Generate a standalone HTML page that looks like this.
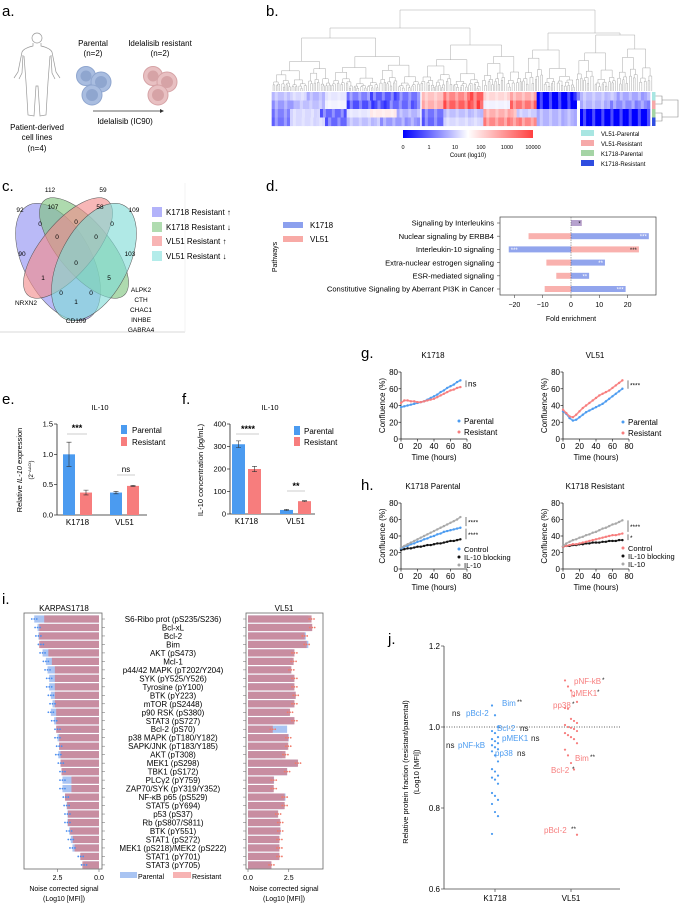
<!DOCTYPE html>
<html><head><meta charset="utf-8">
<style>
html,body{margin:0;padding:0;background:#fff;}
svg{display:block;font-family:"Liberation Sans",Arial,sans-serif;}
</style></head>
<body>
<svg id="fig" width="685" height="903" viewBox="0 0 685 903" xmlns="http://www.w3.org/2000/svg">
<!-- Panel a -->
<g>
<text x="2" y="16" font-size="15">a.</text>
<g fill="none" stroke="#999" stroke-width="0.7">
<circle cx="37" cy="38" r="5"/>
<path d="M33,43 L33,46 Q24,48 22,52 L18,72 L14,78 M41,43 L41,46 Q50,48 52,52 L56,72 L60,78 M23,55 L22,73 L19,79 M51,55 L52,73 L55,79 M24,56 L26,82 L28,115 L34,116 L36,86 L38,86 L40,116 L46,115 L48,82 L50,56"/>
</g>
<text x="93" y="46" font-size="8" text-anchor="middle">Parental</text>
<text x="93" y="56" font-size="8" text-anchor="middle">(n=2)</text>
<text x="160" y="46" font-size="8" text-anchor="middle">Idelalisib resistant</text>
<text x="160" y="56" font-size="8" text-anchor="middle">(n=2)</text>
<g>
<circle cx="86" cy="76" r="9.5" fill="#a9bde0" stroke="#8fa6cf"/><circle cx="86" cy="76" r="5.5" fill="#8fa6cf"/>
<circle cx="101" cy="82" r="10" fill="#a9bde0" stroke="#8fa6cf"/><circle cx="101" cy="82" r="6" fill="#8fa6cf"/>
<circle cx="92" cy="95" r="10" fill="#a9bde0" stroke="#8fa6cf"/><circle cx="92" cy="95" r="6" fill="#8fa6cf"/>
</g>
<g>
<circle cx="153" cy="76" r="9.5" fill="#e8c0c2" stroke="#d6a3a6"/><circle cx="153" cy="76" r="5.5" fill="#d6a3a6"/>
<circle cx="167" cy="82" r="10" fill="#e8c0c2" stroke="#d6a3a6"/><circle cx="167" cy="82" r="6" fill="#d6a3a6"/>
<circle cx="158" cy="95" r="10" fill="#e8c0c2" stroke="#d6a3a6"/><circle cx="158" cy="95" r="6" fill="#d6a3a6"/>
</g>
<line x1="93" y1="111" x2="161" y2="111" stroke="#333" stroke-width="0.8"/>
<path d="M160,109 L164,111 L160,113 Z" fill="#333"/>
<text x="125" y="124" font-size="8" text-anchor="middle">Idelalisib (IC90)</text>
<text x="37" y="130" font-size="8" text-anchor="middle">Patient-derived</text>
<text x="37" y="140" font-size="8" text-anchor="middle">cell lines</text>
<text x="37" y="151" font-size="8" text-anchor="middle">(n=4)</text>
</g>

<!-- Panel b -->
<g>
<text x="266" y="16" font-size="15">b.</text>
<g id="dendro" stroke="#aaa" stroke-width="0.5" fill="none"></g>
<g id="heat"></g>
<g stroke="#888" stroke-width="0.6" fill="none">
<path d="M655,96 L662,96 L662,104 L655,104 M655,113 L662,113 L662,121 L655,121 M662,100 L678,100 L678,117 L662,117"/>
</g>
<rect x="652" y="92" width="3.5" height="8.5" fill="#a8e6e2"/>
<rect x="652" y="100.5" width="3.5" height="8.5" fill="#f6a9a9"/>
<rect x="652" y="109" width="3.5" height="8.5" fill="#a5d4a5"/>
<rect x="652" y="117.5" width="3.5" height="8.5" fill="#2f4de0"/>
<defs><linearGradient id="cb" x1="0" x2="1"><stop offset="0" stop-color="#0000ff"/><stop offset="0.5" stop-color="#ffffff"/><stop offset="1" stop-color="#ff4040"/></linearGradient></defs>
<rect x="403" y="130" width="130" height="8" fill="url(#cb)"/>
<g font-size="5.5" text-anchor="middle">
<text x="403" y="149">0</text><text x="429" y="149">1</text><text x="455" y="149">10</text><text x="481" y="149">100</text><text x="507" y="149">1000</text><text x="533" y="149">10000</text>
</g>
<text x="468" y="157" font-size="6" text-anchor="middle">Count (log10)</text>
<g font-size="6">
<rect x="581" y="130" width="13" height="6" fill="#a8e6e2"/><text x="601" y="136">VL51-Parental</text>
<rect x="581" y="140" width="13" height="6" fill="#f6a9a9"/><text x="601" y="146">VL51-Resistant</text>
<rect x="581" y="150" width="13" height="6" fill="#a5d4a5"/><text x="601" y="156">K1718-Parental</text>
<rect x="581" y="160" width="13" height="6" fill="#2f4de0"/><text x="601" y="166">K1718-Resistant</text>
</g>
</g>

<!-- Panel c -->
<g>
<text x="2" y="191" font-size="15">c.</text>
<line x1="0" y1="332" x2="185" y2="332" stroke="#ccc" stroke-width="0.7"/>
<line x1="185" y1="183" x2="185" y2="332" stroke="#eee" stroke-width="0.7"/>
<g stroke="#555" stroke-width="0.5" fill-opacity="0.62">
<ellipse cx="58" cy="262" rx="34" ry="64" transform="rotate(-28 58 262)" fill="#8f8ff2"/>
<ellipse cx="84" cy="248" rx="26" ry="62" transform="rotate(-40 84 248)" fill="#7cc47c"/>
<ellipse cx="68" cy="248" rx="26" ry="62" transform="rotate(40 68 248)" fill="#f28a8a"/>
<ellipse cx="94" cy="262" rx="34" ry="64" transform="rotate(28 94 262)" fill="#7fdcd6"/>
</g>
<g font-size="6.5" text-anchor="middle">
<text x="50" y="192">112</text><text x="103" y="192">59</text><text x="20" y="212">92</text><text x="134" y="212">109</text>
<text x="53" y="209">107</text><text x="100" y="209">58</text><text x="40" y="226">0</text><text x="76" y="224">0</text><text x="112" y="226">0</text>
<text x="57" y="239">0</text><text x="96" y="239">0</text><text x="22" y="256">90</text><text x="130" y="256">103</text><text x="76" y="265">0</text>
<text x="43" y="280">1</text><text x="109" y="280">5</text><text x="61" y="295">0</text><text x="91" y="295">0</text><text x="76" y="304">1</text>
</g>
<g font-size="6.5" text-anchor="middle">
<text x="26" y="305">NRXN2</text><text x="76" y="323">CD109</text>
<text x="141" y="292">ALPK2</text><text x="141" y="302">CTH</text><text x="141" y="312">CHAC1</text><text x="141" y="322">INHBE</text><text x="141" y="332">GABRA4</text>
</g>
<g font-size="8">
<rect x="152" y="207" width="10" height="10" fill="#b3b3fa"/><text x="166" y="215">K1718 Resistant ↑</text>
<rect x="152" y="222" width="10" height="10" fill="#b0dcb0"/><text x="166" y="230">K1718 Resistant ↓</text>
<rect x="152" y="236" width="10" height="10" fill="#f8b4b4"/><text x="166" y="244">VL51 Resistant ↑</text>
<rect x="152" y="251" width="10" height="10" fill="#b3ecea"/><text x="166" y="259">VL51 Resistant ↓</text>
</g>
</g>

<!-- Panel d -->
<g>
<text x="266" y="191" font-size="15">d.</text>
<rect x="283" y="222" width="20" height="6" fill="#8ca0ee"/><text x="310" y="228" font-size="8">K1718</text>
<rect x="283" y="236" width="20" height="6" fill="#f8aaa6"/><text x="310" y="242" font-size="8">VL51</text>
<text transform="translate(277,257) rotate(-90)" font-size="7" text-anchor="middle">Pathways</text>
<rect x="500" y="217" width="156" height="78" fill="none" stroke="#444" stroke-width="0.7"/>
<g id="dplot"></g>
<text x="571" y="321" font-size="7" text-anchor="middle">Fold enrichment</text>
</g>

<!-- Panel e -->
<g>
<text x="2" y="404" font-size="15">e.</text>
<text x="100" y="410" font-size="7.5" text-anchor="middle">IL-10</text>
<text transform="translate(22,470) rotate(-90)" font-size="7.5" text-anchor="middle">Relative <tspan font-style="italic">IL-10</tspan> expression</text>
<text transform="translate(33,470) rotate(-90)" font-size="6" text-anchor="middle">(2<tspan baseline-shift="super" font-size="4">−ΔΔCt</tspan>)</text>
<g id="eplot"></g>
<g font-size="8">
<rect x="121" y="425" width="6" height="9" fill="#4b9bf0"/><text x="132" y="433">Parental</text>
<rect x="121" y="437" width="6" height="9" fill="#f77d7d"/><text x="132" y="445">Resistant</text>
</g>
</g>

<!-- Panel f -->
<g>
<text x="182" y="404" font-size="15">f.</text>
<text x="270" y="410" font-size="7.5" text-anchor="middle">IL-10</text>
<text transform="translate(203,470) rotate(-90)" font-size="7.5" text-anchor="middle">IL-10 concentration (pg/mL)</text>
<g id="fplot"></g>
<g font-size="8">
<rect x="294" y="426" width="6" height="9" fill="#4b9bf0"/><text x="304" y="434">Parental</text>
<rect x="294" y="437" width="6" height="9" fill="#f77d7d"/><text x="304" y="445">Resistant</text>
</g>
</g>

<!-- Panels g,h -->
<g>
<text x="361" y="358" font-size="15">g.</text>
</g>
<g>
<text x="361" y="490" font-size="15">h.</text>
</g>
<g id="ghplots"></g>

<!-- Panel i -->
<g>
<text x="2" y="604" font-size="15">i.</text>
<text x="64" y="611" font-size="8" text-anchor="middle">KARPAS1718</text>
<text x="284" y="611" font-size="8" text-anchor="middle">VL51</text>
<g id="iplot"></g>
<g font-size="7" text-anchor="middle">
<text x="64" y="891">Noise corrected signal</text><text x="64" y="901">(Log10 [MFI])</text>
<text x="284" y="891">Noise corrected signal</text><text x="284" y="901">(Log10 [MFI])</text>
</g>
<g font-size="7">
<rect x="120" y="872" width="17" height="6" fill="#a9c4f2"/><text x="138" y="879">Parental</text>
<rect x="173" y="872" width="18" height="6" fill="#f7b3b3"/><text x="192" y="879">Resistant</text>
</g>
</g>

<!-- Panel j -->
<g>
<text x="388" y="644" font-size="15">j.</text>
<text transform="translate(408,772) rotate(-90)" font-size="7.5" text-anchor="middle">Relative protein fraction (resistant/parental)</text>
<text transform="translate(419,772) rotate(-90)" font-size="7.5" text-anchor="middle">(Log10 [MFI])</text>
<g id="jplot"></g>
</g>
</svg>
<script>
const NS='http://www.w3.org/2000/svg';
function mk(tag,attrs,parent){const e=document.createElementNS(NS,tag);for(const k in attrs)e.setAttribute(k,attrs[k]);if(parent)parent.appendChild(e);return e;}
function txt(s,attrs,parent){const e=mk('text',attrs,parent);e.textContent=s;return e;}

/* ---------- b: heatmap blocks (zoom-x start, end, log-scaled value -2..1) ---------- */
const heatRow1=[[5,60,-0.5],[60,110,-0.3],[110,165,-0.6],[165,230,-0.2],[230,300,-1.0],[300,380,-1.3],[380,450,-1.1],[455,520,0.3],[520,600,0.6],[600,640,0.8],[640,720,0.2],[720,800,0.4],[800,910,-2],[910,930,-1.4],[930,1040,-0.5],[1040,1140,-0.7]];
const heatRow2=[[5,80,-0.8],[80,165,-0.5],[165,230,-0.1],[230,350,-1.4],[350,450,-1.2],[455,520,0.4],[520,620,0.8],[620,640,1.0],[640,720,-0.1],[720,800,0.7],[800,920,-2],[930,1020,-0.6],[1020,1140,-0.9]];
const heatRow3=[[5,60,-1.0],[60,150,-0.3],[150,230,-1.2],[230,300,-0.2],[300,380,0.1],[380,450,-0.6],[455,520,-1.1],[520,640,-0.5],[640,740,0.4],[740,800,-0.4],[800,920,-0.6],[930,1140,-2]];
const heatRow4=[[5,60,-1.1],[60,165,-0.3],[165,230,-1.2],[230,330,-0.5],[330,450,-0.8],[455,520,-1.2],[520,640,-0.3],[640,800,0.6],[800,920,-0.6],[930,1140,-2]];
const heatRows=[heatRow1,heatRow2,heatRow3,heatRow4];
function heatColor(v){if(v<0){const t=Math.min(1,-v/2);const c=Math.round(255*(1-t*1.0));return `rgb(${Math.max(0,c)},${Math.max(0,c)},255)`;}const t=Math.min(1,v);return `rgb(255,${Math.round(255-t*200)},${Math.round(255-t*200)})`;}
const heat=document.getElementById('heat');
heatRows.forEach((row,ri)=>{row.forEach(b=>{const x0=270+b[0]/3,x1=270+b[1]/3;
 const steps=Math.max(1,Math.round((x1-x0)/3));
 for(let s=0;s<steps;s++){const vv=b[2]*(s%3===1?0.7:(s%4===0?1.15:1));
  const r=mk('rect',{x:x0+(x1-x0)*s/steps,y:92+ri*8.5,width:(x1-x0)/steps+0.3,height:8.6,fill:heatColor(vv)},heat);
  
  }
});});
/* dendrogram (decorative tree structure) */
const dendro=document.getElementById('dendro');
function subtree(x0,x1,top,depth,cx){if(depth===0||x1-x0<2.5){mk('line',{x1:cx,y1:top,x2:cx,y2:91},dendro);return;}
 const split=x0+(x1-x0)*(0.4+0.2*((depth*5+Math.round(x0))%4)/3);const lh=top+(91-top)*(0.2+0.12*(depth%3));const rh=top+(91-top)*(0.25+0.1*((depth+2)%3));
 const lc=(x0+split)/2,rc=(split+x1)/2;mk('path',{d:`M${lc},${lh} L${lc},${top} L${rc},${top} L${rc},${rh}`},dendro);
 subtree(x0,split,lh,depth-1,lc);subtree(split,x1,rh,depth-1,rc);}
(function(){const top=10;const lc=400,rc=595;
 mk('path',{d:`M${lc},28 L${lc},${top} L${rc},${top} L${rc},33`},dendro);
 subtree(272,420,38,8,330);subtree(420,522,45,7,470);mk('path',{d:'M330,38 L330,28 L470,28 L470,45'},dendro);
 subtree(522,575,50,6,548);subtree(575,653,35,7,620);mk('path',{d:'M548,50 L548,33 L620,33 L620,35'},dendro);})();

/* ---------- d: pathway fold enrichment ---------- */
const dPathways=['Signaling by Interleukins','Nuclear signaling by ERBB4','Interleukin-10 signaling','Extra-nuclear estrogen signaling','ESR-mediated signaling','Constitutive Signaling by Aberrant PI3K in Cancer'];
const dK1718=[3.8,27.5,-22,12,6.4,19.3];
const dVL51=[3.8,-15,24,-8.7,-5.2,-9.3];
const dStarsK=['*','***','***','**','**','***'];
const dStarsV=['*','','***','','',''];
const dTicks=[-20,-10,0,10,20];
(function(){const g=document.getElementById('dplot');const x=v=>571+v*2.83;const y=i=>223+i*13.2;
 dPathways.forEach((p,i)=>{const t=txt(p,{x:494,y:y(i)+2.7,'font-size':7.6,'text-anchor':'end'},g);
  
  
  mk('line',{x1:497,x2:500,y1:y(i),y2:y(i),stroke:'#444','stroke-width':0.6},g);
  const v=dVL51[i];const r1=mk('rect',{x:Math.min(x(0),x(v)),y:y(i)-3,width:Math.abs(x(v)-x(0)),height:6,fill:'#f8a9a5','fill-opacity':0.9},g);
  
  
  const k=dK1718[i];const r2=mk('rect',{x:Math.min(x(0),x(k)),y:y(i)-3,width:Math.abs(x(k)-x(0)),height:6,fill:'#7f95ea','fill-opacity':i===0?0.55:0.85},g);
  
  
  if(dStarsK[i]&&i>0)txt(dStarsK[i],{x:k>0?x(k)-2:x(k)+2,y:y(i)+2.5,'font-size':6,fill:'#fff','text-anchor':k>0?'end':'start'},g);
  if(dStarsV[i]&&i>0)txt(dStarsV[i],{x:x(v)-2,y:y(i)+2.5,'font-size':6,fill:'#222','text-anchor':'end'},g);
  if(i===0)txt('*',{x:x(k)-1,y:y(i)+2.5,'font-size':6,fill:'#222','text-anchor':'end'},g);
 });
 mk('line',{x1:x(0),x2:x(0),y1:217,y2:295,stroke:'#555','stroke-width':0.5,'stroke-dasharray':'1.5,1'},g);
 dTicks.forEach(t=>{mk('line',{x1:x(t),x2:x(t),y1:295,y2:298,stroke:'#444','stroke-width':0.6},g);const tt=txt(t<0?'−'+(-t):String(t),{x:x(t),y:307,'font-size':7,'text-anchor':'middle'},g);
  
  });
})();

/* ---------- e & f bar charts ---------- */
const eCats=['K1718','VL51'];
const eParental=[1.0,0.37];
const eResistant=[0.37,0.48];
const eParErr=[0.2,0.02];
const eResErr=[0.04,0.01];
const eTicks=[0.0,0.5,1.0,1.5];
const fCats=['K1718','VL51'];
const fParental=[310,18];
const fResistant=[200,57];
const fParErr=[15,3];
const fResErr=[12,2];
const fTicks=[0,100,200,300,400];
function barChart(gid,ax,x1,y0,ymax,ytop,vals1,vals2,err1,err2,cats,ticks,fmt,bx,bw){
 const g=document.getElementById(gid);const y=v=>y0-(v/ymax)*(y0-ytop);
 mk('line',{x1:ax,x2:ax,y1:ytop,y2:y0,stroke:'#222','stroke-width':0.8},g);
 mk('line',{x1:ax,x2:x1,y1:y0,y2:y0,stroke:'#222','stroke-width':0.8},g);
 ticks.forEach(t=>{mk('line',{x1:ax-3,x2:ax,y1:y(t),y2:y(t),stroke:'#222','stroke-width':0.7},g);const tt=txt(fmt(t),{x:ax-4,y:y(t)+2.5,'font-size':7.5,'text-anchor':'end'},g);
  
  });
 cats.forEach((c,i)=>{const xp=bx[i*2],xr=bx[i*2+1];
  const b1=mk('rect',{x:xp,y:y(vals1[i]),width:bw,height:y0-y(vals1[i]),fill:'#4b9bf0'},g);
  
  
  const b2=mk('rect',{x:xr,y:y(vals2[i]),width:bw,height:y0-y(vals2[i]),fill:'#f77d7d'},g);
  
  
  [[xp,vals1[i],err1[i]],[xr,vals2[i],err2[i]]].forEach(a=>{const cx=a[0]+bw/2;mk('path',{d:`M${cx},${y(a[1]+a[2])} L${cx},${y(a[1]-a[2])} M${cx-2.5},${y(a[1]+a[2])} L${cx+2.5},${y(a[1]+a[2])} M${cx-2.5},${y(a[1]-a[2])} L${cx+2.5},${y(a[1]-a[2])}`,stroke:'#333','stroke-width':0.6,fill:'none'},g);});
  const ct=txt(c,{x:(xp+xr+bw)/2,y:y0+10,'font-size':8,'text-anchor':'middle'},g);
  
  
 });
 return y;}
(function(){barChart('eplot',57,147,515,1.5,424,eParental,eResistant,eParErr,eResErr,eCats,eTicks,t=>t.toFixed(1),[63,80,110,127],12);
 const g=document.getElementById('eplot');
 txt('***',{x:77,y:431,'font-size':9,'text-anchor':'middle','font-weight':'bold'},g);mk('line',{x1:67,x2:87,y1:434,y2:434,stroke:'#bbb','stroke-width':0.7},g);
 txt('ns',{x:126,y:472,'font-size':8,'text-anchor':'middle'},g);mk('line',{x1:117,x2:135,y1:475,y2:475,stroke:'#bbb','stroke-width':0.7},g);
 barChart('fplot',230,315,514,400,424,fParental,fResistant,fParErr,fResErr,fCats,fTicks,t=>String(t),[232,248,280,298],13);
 const f=document.getElementById('fplot');
 txt('****',{x:248,y:432,'font-size':9,'text-anchor':'middle','font-weight':'bold'},f);mk('line',{x1:236,x2:259,y1:434,y2:434,stroke:'#bbb','stroke-width':0.7},f);
 txt('**',{x:296,y:489,'font-size':9,'text-anchor':'middle','font-weight':'bold'},f);mk('line',{x1:287,x2:305,y1:491,y2:491,stroke:'#bbb','stroke-width':0.7},f);
})();

/* ---------- g & h time series ---------- */
const timeHours=[0,4,8,12,16,20,24,28,32,36,40,44,48,52,56,60,64,68,72];
const gK1718Parental=[38,39,40,41,42,43,44,45,47,49,51,53,56,58,61,63,65,68,70];
const gK1718Resistant=[43,46,46,45,45,44,44,45,46,47,48,50,52,54,56,58,59,61,62];
const gVL51Parental=[33,30,25,22,23,26,29,32,34,36,38,40,42,45,48,51,54,57,60];
const gVL51Resistant=[35,31,27,26,29,33,37,40,43,46,49,52,54,56,58,61,64,67,70];
const hParControl=[25,27,28,30,31,33,34,36,37,39,40,42,43,45,46,47,48,49,50];
const hParBlocking=[23,24,25,25,26,27,27,28,29,29,30,31,31,32,33,34,34,35,36];
const hParIL10=[26,28,30,32,34,36,38,40,42,44,46,48,50,52,54,56,58,60,63];
const hResControl=[27,28,29,30,30,31,32,33,34,35,36,37,38,39,40,41,41,42,43];
const hResBlocking=[27,28,28,29,29,30,30,31,31,32,32,32,33,33,34,34,34,35,35];
const hResIL10=[28,31,33,35,36,38,39,41,42,44,45,47,49,50,52,54,55,57,59];
const axisTicks=[0,20,40,60,80];
function tsPlot(name,ax,y0,ytop,title,series,colors,labels,stars,legX,legY,legOrder){
 const g=mk('g',{},document.getElementById('ghplots'));
 
 
 const w=66;const x=t=>ax+t/80*w;const y=v=>y0-v/80*(y0-ytop);
 txt(title,{x:ax+32,y:ytop-14,'font-size':8,'text-anchor':'middle'},g);
 mk('line',{x1:ax,x2:ax,y1:ytop,y2:y0,stroke:'#222','stroke-width':0.8},g);
 mk('line',{x1:ax,x2:ax+w,y1:y0,y2:y0,stroke:'#222','stroke-width':0.8},g);
 axisTicks.forEach(t=>{mk('line',{x1:ax-2.5,x2:ax,y1:y(t),y2:y(t),stroke:'#222','stroke-width':0.7},g);txt(String(t),{x:ax-3,y:y(t)+3,'font-size':8,'text-anchor':'end'},g);
  mk('line',{x1:x(t),x2:x(t),y1:y0,y2:y0+2.5,stroke:'#222','stroke-width':0.7},g);txt(String(t),{x:x(t),y:y0+10,'font-size':8,'text-anchor':'middle'},g);});
 const yt=txt('Confluence (%)',{transform:`translate(${ax-16},${(y0+ytop)/2}) rotate(-90)`,'font-size':8,'text-anchor':'middle'},g);
 
 
 const xt=txt('Time (hours)',{x:ax+33,y:y0+21,'font-size':8,'text-anchor':'middle'},g);
 
 
 series.forEach((s,si)=>{const pts=s.map((v,i)=>x(timeHours[i])+','+y(v)).join(' ');
  const pl=mk('polyline',{points:pts,fill:'none',stroke:colors[si],'stroke-width':1.6,'stroke-opacity':0.85},g);
  
  
  s.forEach((v,i)=>{const c=mk('circle',{cx:x(timeHours[i]),cy:y(v),r:1.2,fill:colors[si]},g);
   
   });
 });
 stars.forEach(st=>{mk('line',{x1:ax+w-1,x2:ax+w-1,y1:y(st[0]),y2:y(st[1]),stroke:'#222','stroke-width':0.6},g);txt(st[2],{x:ax+w+1,y:(y(st[0])+y(st[1]))/2+3,'font-size':st[2]==='ns'?8:6.5},g);});
 const step=labels.length>2?8:11;
 legOrder.forEach((li,pos)=>{mk('circle',{cx:legX,cy:legY+pos*step,r:1.5,fill:colors[li]},g);const lt=txt(labels[li],{x:legX+5,y:legY+pos*step+3,'font-size':labels.length>2?7.5:8},g);
  
  });
}
tsPlot('g-k1718-chart',401,439,372,'K1718',[gK1718Parental,gK1718Resistant],['#4b9bf0','#f77d7d'],['Parental','Resistant'],[[gK1718Parental[18],gK1718Resistant[18],'ns']],459,421,[0,1]);
tsPlot('g-vl51-chart',563,439,372,'VL51',[gVL51Parental,gVL51Resistant],['#4b9bf0','#f77d7d'],['Parental','Resistant'],[[gVL51Resistant[18],gVL51Parental[18],'****']],623,422,[0,1]);
tsPlot('h-parental-chart',401,569,503,'K1718 Parental',[hParBlocking,hParControl,hParIL10],['#111','#4b9bf0','#a8a8a8'],['IL-10 blocking','Control','IL-10'],[[hParIL10[18],hParControl[18]+2,'****'],[hParControl[18]-1,hParBlocking[18],'****']],459,549,[1,0,2]);
tsPlot('h-resistant-chart',563,569,503,'K1718 Resistant',[hResBlocking,hResControl,hResIL10],['#111','#f77d7d','#a8a8a8'],['IL-10 blocking','Control','IL-10'],[[hResIL10[18],hResControl[18]+2,'****'],[hResControl[18]-1,hResBlocking[18],'*']],623,548,[1,0,2]);

/* ---------- i: phospho-flow bars ---------- */
const iLabels=['S6-Ribo prot (pS235/S236)','Bcl-xL','Bcl-2','Bim','AKT (pS473)','Mcl-1','p44/42 MAPK (pT202/Y204)','SYK (pY525/Y526)','Tyrosine (pY100)','BTK (pY223)','mTOR (pS2448)','p90 RSK (pS380)','STAT3 (pS727)','Bcl-2 (pS70)','p38 MAPK (pT180/Y182)','SAPK/JNK (pT183/Y185)','AKT (pT308)','MEK1 (pS298)','TBK1 (pS172)','PLCγ2 (pY759)','ZAP70/SYK (pY319/Y352)','NF-κB p65 (pS529)','STAT5 (pY694)','p53 (pS37)','Rb (pS807/S811)','BTK (pY551)','STAT1 (pS272)','MEK1 (pS218)/MEK2 (pS222)','STAT1 (pY701)','STAT3 (pY705)'];
const iK1718Resistant=[3.3,3.6,3.6,3.6,3.05,2.84,2.66,2.66,2.66,2.66,2.66,2.58,2.58,2.58,2.4,2.4,2.32,2.32,2.26,1.66,1.66,2.05,1.92,1.87,1.87,1.74,1.58,1.47,1.13,1.0];
const iK1718Parental=[3.9,3.7,3.65,3.5,3.4,3.2,3.1,3.0,3.0,2.9,2.8,2.9,2.7,2.5,2.5,2.4,2.45,2.3,2.2,2.2,2.2,2.0,1.95,1.9,1.9,1.8,1.7,1.6,1.1,0.9];
const iVL51Resistant=[3.9,3.94,3.48,3.6,2.85,2.8,2.66,2.85,2.85,2.93,2.85,2.58,2.85,1.52,2.47,2.47,2.3,3.07,2.4,1.58,1.58,2.25,2.25,1.85,1.98,1.98,1.93,1.93,1.93,1.44];
const iVL51Parental=[3.7,3.9,3.55,3.7,2.8,2.7,2.6,2.8,2.8,2.9,2.8,2.5,2.8,2.4,2.5,2.4,2.1,3.0,2.4,1.6,1.5,2.3,2.2,1.8,1.9,2.0,1.9,1.9,1.9,1.4];
const iTicksLeft=[2.5,0.0];
const iTicksRight=[0.0,2.5];
(function(){const g=document.getElementById('iplot');const ry=i=>619+i*8.48;
 const xl=v=>99-v*16.6;const xr=v=>248+v*16.3;
 mk('rect',{x:24,y:613,width:78,height:256,fill:'none',stroke:'#666','stroke-width':0.8},g);
 mk('rect',{x:246,y:613,width:77,height:256,fill:'none',stroke:'#666','stroke-width':0.8},g);
 iLabels.forEach((l,i)=>{const t=txt(l,{x:173,y:ry(i)+3,'font-size':8,'text-anchor':'middle'},g);
  
  
  mk('line',{x1:102,x2:105,y1:ry(i),y2:ry(i),stroke:'#666','stroke-width':0.5},g);
  mk('line',{x1:243,x2:246,y1:ry(i),y2:ry(i),stroke:'#666','stroke-width':0.5},g);
  const bp=mk('rect',{x:xl(iK1718Parental[i]),y:ry(i)-3.6,width:99-xl(iK1718Parental[i]),height:7.2,fill:'#a9c4f2'},g);
  
  
  const br=mk('rect',{x:xl(iK1718Resistant[i]),y:ry(i)-3.6,width:99-xl(iK1718Resistant[i]),height:7.2,fill:'#c98a9c','fill-opacity':0.95},g);
  
  
  const vp=mk('rect',{x:248,y:ry(i)-3.6,width:xr(iVL51Parental[i])-248,height:7.2,fill:'#a9c4f2'},g);
  
  
  const vr=mk('rect',{x:248,y:ry(i)-3.6,width:xr(iVL51Resistant[i])-248,height:7.2,fill:'#c98a9c','fill-opacity':0.95},g);
  
  
  [-0.15,0,0.15].forEach(d=>{mk('circle',{cx:xl(iK1718Parental[i]+d),cy:ry(i),r:0.9,fill:'#4b8ef0'},g);mk('circle',{cx:xr(iVL51Resistant[i]+d),cy:ry(i),r:0.9,fill:'#f07a6a'},g);});
 });
 iTicksLeft.forEach(t=>{mk('line',{x1:xl(t),x2:xl(t),y1:869,y2:872,stroke:'#666','stroke-width':0.6},g);txt(t.toFixed(1),{x:xl(t),y:880,'font-size':7,'text-anchor':'middle'},g);});
 iTicksRight.forEach(t=>{mk('line',{x1:xr(t),x2:xr(t),y1:869,y2:872,stroke:'#666','stroke-width':0.6},g);txt(t.toFixed(1),{x:xr(t),y:880,'font-size':7,'text-anchor':'middle'},g);});
})();

/* ---------- j: relative protein fraction ---------- */
const jCats=['K1718','VL51'];
const jK1718=[1.053,1.029,1.0,0.99,0.985,0.975,0.97,0.965,0.96,0.955,0.95,0.945,0.94,0.93,0.915,0.896,0.89,0.88,0.875,0.87,0.86,0.837,0.83,0.82,0.81,0.79,0.78,0.736];
const jVL51=[1.115,1.10,1.09,1.077,1.062,1.047,1.045,1.02,1.015,1.01,1.005,1.0,0.998,0.995,0.99,0.985,0.98,0.975,0.97,0.96,0.944,0.93,0.911,0.895,0.734];
const jTicks=[0.6,0.8,1.0,1.2];
(function(){const g=document.getElementById('jplot');const y=v=>727-(v-1)/0.2*81;const cx=[495,571];
 mk('line',{x1:444,x2:444,y1:646,y2:889,stroke:'#444','stroke-width':0.8},g);
 mk('line',{x1:444,x2:620,y1:889,y2:889,stroke:'#444','stroke-width':0.8},g);
 jTicks.forEach(t=>{mk('line',{x1:441,x2:444,y1:y(t),y2:y(t),stroke:'#444','stroke-width':0.7},g);const tt=txt(t.toFixed(1),{x:440,y:y(t)+3,'font-size':8,'text-anchor':'end'},g);
  
  });
 mk('line',{x1:444,x2:620,y1:y(1),y2:y(1),stroke:'#333','stroke-width':0.7,'stroke-dasharray':'1,1.5'},g);
 jCats.forEach((c,i)=>{mk('line',{x1:cx[i],x2:cx[i],y1:889,y2:892,stroke:'#444','stroke-width':0.7},g);txt(c,{x:cx[i],y:901,'font-size':8,'text-anchor':'middle'},g);});
 jK1718.forEach((v,i)=>{const p=mk('circle',{cx:cx[0]+((i%3)-1)*3,cy:y(v),r:1.1,fill:'#4b9bf0'},g);
  
  });
 jVL51.forEach((v,i)=>{const p=mk('circle',{cx:cx[1]+((i%5)-2)*3,cy:y(v),r:1.1,fill:'#f77d7d'},g);
  
  });
 const B='#4b9bf0',P='#f77d7d',K='#222';
 const ann=[[502,706,'Bim',B],[517,704,'**',K],[452,716,'ns',K],[466,716,'pBcl-2',B],[497,731,'Bcl-2',B],[520,731,'ns',K],[502,741,'pMEK1',B],[531,741,'ns',K],[446,748,'ns',K],[458,748,'pNF-kB',B],[495,756,'pp38',B],[517,756,'ns',K],
  [574,684,'pNF-kB',P],[602,682,'*',K],[571,696,'pMEK1',P],[597,694,'*',K],[553,708,'pp38',P],[572,706,'*',K],[575,761,'Bim',P],[590,759,'**',K],[551,773,'Bcl-2',P],[572,771,'*',K],[544,833,'pBcl-2',P],[571,831,'**',K]];
 ann.forEach(a=>{const t=txt(a[2],{x:a[0],y:a[1],'font-size':a[2].startsWith('*')?6.5:8,fill:a[3]},g);
  
  });
})();
</script>
</body></html>
